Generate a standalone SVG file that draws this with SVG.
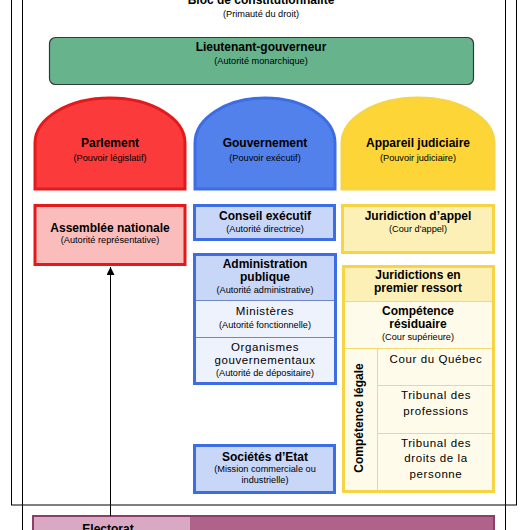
<svg xmlns="http://www.w3.org/2000/svg" width="528" height="530" viewBox="0 0 528 530">
<defs>
<style>
text{font-family:"Liberation Sans",Arial,sans-serif;fill:#000;text-anchor:middle}
.t{font-size:12px;font-weight:bold}
.s{font-size:9.2px}
.r{font-size:11.5px;letter-spacing:0.6px}
.frame{fill:none;stroke:#000;stroke-width:1}
.red{stroke:#e3191c;stroke-width:3}
.blue{stroke:#3c6de4;stroke-width:3}
.yel{stroke:#f6d443;stroke-width:3}
.bdiv{stroke:#6f87c6;stroke-width:1}
.ydiv{stroke:#f3d970;stroke-width:1}
</style>
<marker id="arr" viewBox="0 0 10 10" refX="10" refY="5" markerWidth="8" markerHeight="8" markerUnits="userSpaceOnUse" orient="auto">
<path d="M0,0 L10,5 L0,10 Z" fill="#000"/>
</marker>
</defs>
<rect width="528" height="530" fill="#fff"/>
<g id="frames">
<rect class="frame" x="11.5" y="-10" width="505" height="515"/>
<rect class="frame" x="22.5" y="-10" width="483" height="560"/>
</g>
<g id="bloc">
<text class="t" x="261" y="4">Bloc de constitutionnalité</text>
<text class="s" x="261" y="17">(Primauté du droit)</text>
</g>
<g id="lieutenant">
<rect x="49.5" y="37.5" width="424" height="47" rx="6" fill="#66b38c" stroke="#2f3b34" stroke-width="1.2"/>
<text class="t" x="261" y="51">Lieutenant-gouverneur</text>
<text class="s" x="261" y="64">(Autorité monarchique)</text>
</g>
<g id="parlement">
<path class="red" d="M35,189 V143 A75,45 0 0 1 185,143 V189 Z" fill="#fb3b3b"/>
<text class="t" x="110" y="147">Parlement</text>
<text class="s" x="110" y="161">(Pouvoir législatif)</text>
</g>
<g id="gouvernement">
<path class="blue" d="M195,189 V143 A70,45 0 0 1 335,143 V189 Z" fill="#5281ec"/>
<text class="t" x="265" y="147">Gouvernement</text>
<text class="s" x="265" y="161">(Pouvoir exécutif)</text>
</g>
<g id="judiciaire">
<path class="yel" d="M342,189 V143 A76,45 0 0 1 494,143 V189 Z" fill="#fdd536"/>
<text class="t" x="418" y="147">Appareil judiciaire</text>
<text class="s" x="418" y="161">(Pouvoir judiciaire)</text>
</g>
<g id="assemblee">
<rect class="red" x="35" y="205.5" width="150" height="59" fill="#fbbcbc"/>
<text class="t" x="110" y="232">Assemblée nationale</text>
<text class="s" x="110" y="243">(Autorité représentative)</text>
</g>
<g id="conseil">
<rect class="blue" x="194.5" y="205.5" width="140" height="34" fill="#c8d6f8"/>
<text class="t" x="265" y="220">Conseil exécutif</text>
<text class="s" x="265" y="232">(Autorité directrice)</text>
</g>
<g id="appel">
<rect class="yel" x="342.5" y="205.5" width="151" height="47" fill="#fdf0b6"/>
<text class="t" x="418" y="220">Juridiction d’appel</text>
<text class="s" x="418" y="232">(Cour d'appel)</text>
</g>
<g id="administration">
<rect x="194.5" y="254.5" width="141" height="46" fill="#c8d6f8"/>
<rect x="194.5" y="300.5" width="141" height="83" fill="#eef2fd"/>
<line class="bdiv" x1="194.5" y1="300.5" x2="335.5" y2="300.5"/>
<line class="bdiv" x1="194.5" y1="337.5" x2="335.5" y2="337.5"/>
<rect class="blue" x="194.5" y="254.5" width="141" height="129" fill="none"/>
<text class="t" x="265" y="268">Administration</text>
<text class="t" x="265" y="281">publique</text>
<text class="s" x="265" y="293">(Autorité administrative)</text>
<text class="r" x="265" y="315">Ministères</text>
<text class="s" x="265" y="328">(Autorité fonctionnelle)</text>
<text class="r" x="265" y="351">Organismes</text>
<text class="r" x="265" y="364">gouvernementaux</text>
<text class="s" x="265" y="376">(Autorité de dépositaire)</text>
</g>
<g id="societes">
<rect class="blue" x="194.5" y="445.5" width="140" height="47" fill="#c8d6f8"/>
<text class="t" x="265" y="461">Sociétés d’Etat</text>
<text class="s" x="265" y="472">(Mission commerciale ou</text>
<text class="s" x="265" y="483">industrielle)</text>
</g>
<g id="premier-ressort">
<rect x="343.5" y="266.5" width="150" height="35" fill="#fdf0b6"/>
<rect x="343.5" y="301.5" width="150" height="190" fill="#fffbea"/>
<line class="ydiv" x1="343.5" y1="301.5" x2="493.5" y2="301.5"/>
<line class="ydiv" x1="343.5" y1="348.5" x2="493.5" y2="348.5"/>
<line class="ydiv" x1="377.5" y1="348.5" x2="377.5" y2="491.5"/>
<line class="ydiv" x1="377.5" y1="385.5" x2="493.5" y2="385.5"/>
<line class="ydiv" x1="377.5" y1="433.5" x2="493.5" y2="433.5"/>
<rect class="yel" x="343.5" y="266.5" width="150" height="225" fill="none"/>
<text class="t" x="418" y="279">Juridictions en</text>
<text class="t" x="418" y="292">premier ressort</text>
<text class="t" x="418" y="315">Compétence</text>
<text class="t" x="418" y="328">résiduaire</text>
<text class="s" x="418" y="340">(Cour supérieure)</text>
<text class="t" transform="translate(363,418) rotate(-90)" x="0" y="0">Compétence légale</text>
<text class="r" x="436" y="363">Cour du Québec</text>
<text class="r" x="436" y="399">Tribunal des</text>
<text class="r" x="436" y="415">professions</text>
<text class="r" x="436" y="447">Tribunal des</text>
<text class="r" x="436" y="462">droits de la</text>
<text class="r" x="436" y="478">personne</text>
</g>
<g id="electorat">
<rect x="33" y="516" width="461" height="30" fill="#b0638a" stroke="#8c3d68" stroke-width="2"/>
<rect x="34" y="517" width="156" height="28" fill="#d9a9c4"/>
<text class="t" x="108" y="533">Electorat</text>
</g>
<g id="connectors">
<line x1="110.5" y1="516" x2="110.5" y2="267" stroke="#000" stroke-width="1" marker-end="url(#arr)"/>
</g>
</svg>
